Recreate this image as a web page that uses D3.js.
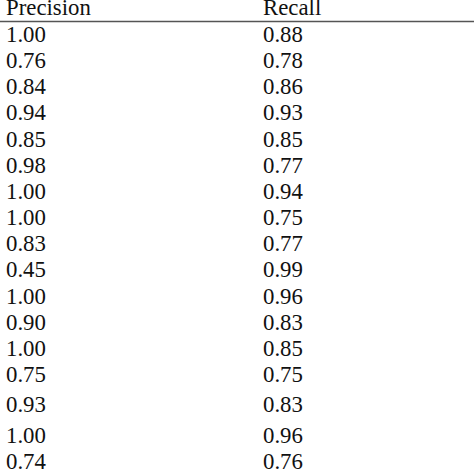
<!DOCTYPE html>
<html><head><meta charset="utf-8">
<script src="https://cdn.jsdelivr.net/npm/d3@7"></script>
<style>body{margin:0;background:#fff}</style></head>
<body><script>
const headers = ["Precision", "Recall"];
const precision = ["1.00","0.76","0.84","0.94","0.85","0.98","1.00","1.00","0.83","0.45","1.00","0.90","1.00","0.75","0.93","1.00","0.74"];
const recall = ["0.88","0.78","0.86","0.93","0.85","0.77","0.94","0.75","0.77","0.99","0.96","0.83","0.85","0.75","0.83","0.96","0.76"];

const W = 474, H = 474;
const svg = d3.select("body").append("svg").attr("width", W).attr("height", H);
const x = d3.scaleOrdinal().domain(headers).range([6, 263]);
const y = d3.scaleLinear().domain([0, 13, 14, 15, 16]).range([42, 382, 412, 443, 469]);
const font = "'Liberation Serif', 'Times New Roman', serif";
const fs = 22.8;

svg.selectAll("text.h").data(headers).join("text")
  .attr("x", d => x(d)).attr("y", 15)
  .attr("font-family", font).attr("font-size", fs).attr("fill", "#111").text(d => d);
svg.append("line").attr("x1", 0).attr("x2", W).attr("y1", 21.5).attr("y2", 21.5)
  .attr("stroke", "#555").attr("stroke-width", 1.5);

const rows = precision.map((p, i) => ({i, p, r: recall[i]}));
const g = svg.selectAll("g.row").data(rows).join("g");
g.append("text").attr("x", x("Precision")).attr("y", d => y(d.i))
  .attr("font-family", font).attr("font-size", fs).attr("fill", "#111").text(d => d.p);
g.append("text").attr("x", x("Recall")).attr("y", d => y(d.i))
  .attr("font-family", font).attr("font-size", fs).attr("fill", "#111").text(d => d.r);
</script></body></html>
